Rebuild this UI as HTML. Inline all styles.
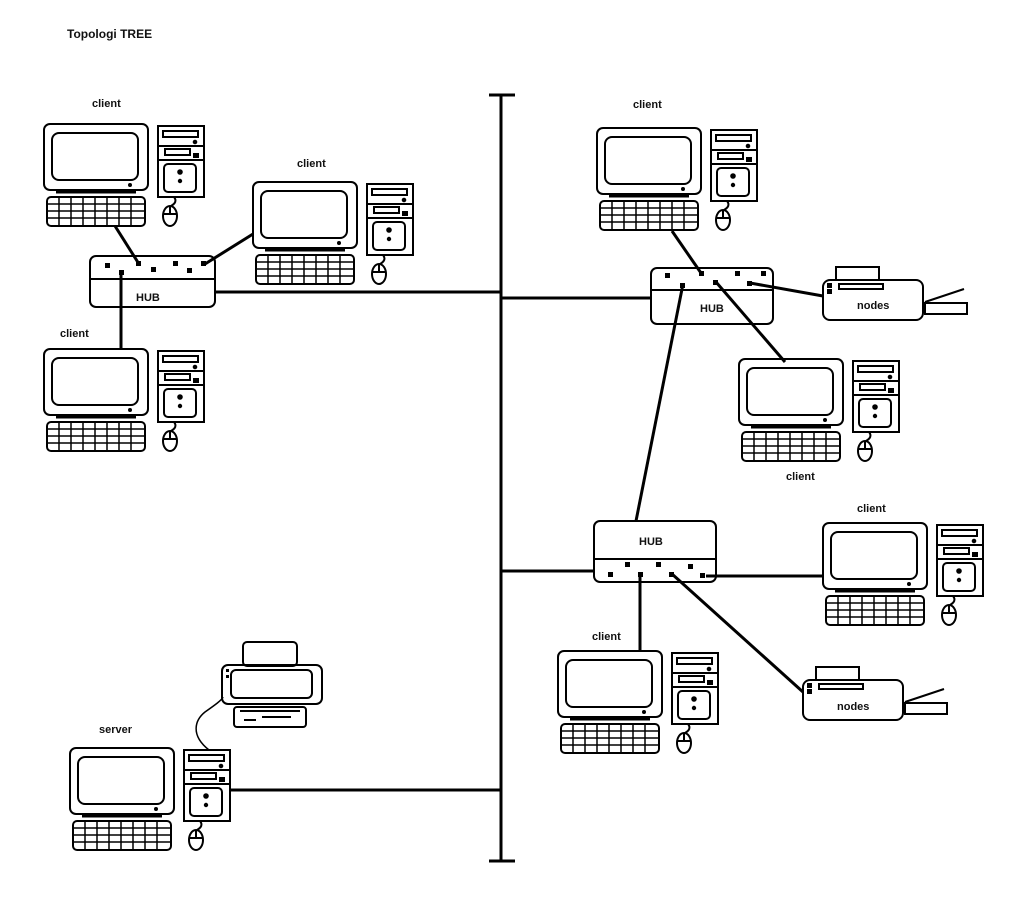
<!DOCTYPE html>
<html><head><meta charset="utf-8"><style>
html,body{margin:0;padding:0;background:#fff;width:1024px;height:903px;overflow:hidden}
svg{display:block}
text{font-family:"Liberation Sans",sans-serif;font-weight:bold;fill:#111}
</style></head><body>
<svg width="1024" height="903" viewBox="0 0 1024 903" xmlns="http://www.w3.org/2000/svg">
<defs>
<g id="pc" fill="none" stroke="#000" stroke-width="2">
  <rect x="0" y="0" width="104" height="66" rx="6"/>
  <rect x="8" y="9" width="86" height="47" rx="7"/>
  <line x1="12" y1="68" x2="92" y2="68" stroke-width="3"/>
  <circle cx="86" cy="61" r="2" fill="#000" stroke="none"/>
  <rect x="3" y="73" width="98" height="29" rx="4"/>
  <path d="M3 80H101M3 87H101M3 94H101M15 73V102M27 73V102M39 73V102M51 73V102M63 73V102M75 73V102M87 73V102" stroke-width="1.5"/>
  <rect x="114" y="2" width="46" height="71"/>
  <rect x="119" y="7" width="35" height="6"/>
  <circle cx="151" cy="18" r="1.3" fill="#000"/>
  <line x1="114" y1="22" x2="160" y2="22"/>
  <rect x="121" y="25" width="25" height="6"/>
  <rect x="150" y="30" width="4" height="3" fill="#000"/>
  <line x1="114" y1="36" x2="160" y2="36"/>
  <rect x="120" y="40" width="32" height="28" rx="4"/>
  <circle cx="136" cy="48" r="1.8" fill="#000"/>
  <circle cx="136" cy="57" r="1.2" fill="#000"/>
  <path d="M130 73 Q134 78 127 82"/>
  <ellipse cx="126" cy="92" rx="7" ry="10"/>
  <line x1="119" y1="90" x2="133" y2="90"/>
  <line x1="126" y1="82" x2="126" y2="90"/>
</g>
<g id="pr" fill="none" stroke="#000" stroke-width="2">
  <rect x="13" y="-13" width="43" height="13"/>
  <rect x="0" y="0" width="100" height="40" rx="7"/>
  <rect x="16" y="4" width="44" height="5"/>
  <rect x="5" y="4" width="3" height="3" fill="#000"/>
  <rect x="5" y="10" width="3" height="3" fill="#000"/>
  <rect x="102" y="23" width="42" height="11"/>
  <line x1="102" y1="22" x2="141" y2="9"/>
</g>
</defs>

<text x="67" y="38" font-size="12">Topologi TREE</text>

<!-- bus -->
<g stroke="#000" stroke-width="3" fill="none">
  <line x1="501" y1="95" x2="501" y2="861"/>
  <line x1="489" y1="95" x2="515" y2="95"/>
  <line x1="489" y1="861" x2="515" y2="861"/>
  <line x1="215" y1="292" x2="501" y2="292"/>
  <line x1="501" y1="298" x2="651" y2="298"/>
  <line x1="501" y1="571" x2="594" y2="571"/>
  <line x1="231" y1="790" x2="501" y2="790"/>
  <!-- hub1 links -->
  <line x1="115" y1="226" x2="139" y2="264"/>
  <line x1="253" y1="234" x2="205" y2="264"/>
  <line x1="121" y1="272" x2="121" y2="349"/>
  <!-- hub2 links -->
  <line x1="672" y1="231" x2="701" y2="273"/>
  <line x1="750" y1="283" x2="823" y2="296"/>
  <line x1="716" y1="282" x2="785" y2="362"/>
  <line x1="683" y1="284" x2="636" y2="521"/>
  <!-- hub3 links -->
  <line x1="706" y1="576" x2="823" y2="576"/>
  <line x1="640" y1="575" x2="640" y2="651"/>
  <line x1="672" y1="574" x2="803" y2="692"/>
</g>
<path d="M209 750 C190 735 195 720 205 712 C215 705 222 700 223 697" fill="none" stroke="#000" stroke-width="1.5"/>

<!-- hubs -->
<g fill="none" stroke="#000" stroke-width="2">
  <rect x="90" y="256" width="125" height="51" rx="6"/>
  <line x1="90" y1="279" x2="215" y2="279"/>
  <rect x="651" y="268" width="122" height="56" rx="6"/>
  <line x1="651" y1="290" x2="773" y2="290"/>
  <rect x="594" y="521" width="122" height="61" rx="6"/>
  <line x1="594" y1="559" x2="716" y2="559"/>
</g>
<g fill="#000">
  <rect x="105" y="263" width="5" height="5"/><rect x="136" y="261" width="5" height="5"/><rect x="151" y="267" width="5" height="5"/><rect x="173" y="261" width="5" height="5"/><rect x="187" y="268" width="5" height="5"/><rect x="201" y="261" width="5" height="5"/><rect x="119" y="270" width="5" height="5"/>
  <rect x="665" y="273" width="5" height="5"/><rect x="699" y="271" width="5" height="5"/><rect x="735" y="271" width="5" height="5"/><rect x="761" y="271" width="5" height="5"/><rect x="680" y="283" width="5" height="5"/><rect x="713" y="280" width="5" height="5"/><rect x="747" y="281" width="5" height="5"/>
  <rect x="608" y="572" width="5" height="5"/><rect x="625" y="562" width="5" height="5"/><rect x="638" y="572" width="5" height="5"/><rect x="656" y="562" width="5" height="5"/><rect x="669" y="572" width="5" height="5"/><rect x="688" y="564" width="5" height="5"/><rect x="700" y="573" width="5" height="5"/>
</g>
<text x="136" y="301" font-size="11" font-weight="normal">HUB</text>
<text x="700" y="312" font-size="11" font-weight="normal">HUB</text>
<text x="639" y="545" font-size="11" font-weight="normal">HUB</text>

<!-- computers -->
<use href="#pc" x="44" y="124"/>
<use href="#pc" x="253" y="182"/>
<use href="#pc" x="44" y="349"/>
<use href="#pc" x="597" y="128"/>
<use href="#pc" x="739" y="359"/>
<use href="#pc" x="823" y="523"/>
<use href="#pc" x="558" y="651"/>
<use href="#pc" x="70" y="748"/>

<text x="92" y="107" font-size="11">client</text>
<text x="297" y="167" font-size="11">client</text>
<text x="60" y="337" font-size="11">client</text>
<text x="633" y="108" font-size="11">client</text>
<text x="786" y="480" font-size="11">client</text>
<text x="857" y="512" font-size="11">client</text>
<text x="592" y="640" font-size="11">client</text>
<text x="99" y="733" font-size="11">server</text>

<!-- printers -->
<use href="#pr" x="823" y="280"/>
<use href="#pr" x="803" y="680"/>
<text x="857" y="309" font-size="11">nodes</text>
<text x="837" y="710" font-size="11">nodes</text>

<g fill="none" stroke="#000" stroke-width="2">
  <rect x="243" y="642" width="54" height="24" rx="4"/>
  <rect x="222" y="665" width="100" height="39" rx="6"/>
  <rect x="231" y="670" width="81" height="28" rx="5"/>
  <rect x="234" y="707" width="72" height="20" rx="3"/>
  <line x1="240" y1="711" x2="300" y2="711"/>
  <line x1="244" y1="720" x2="256" y2="720"/>
  <line x1="262" y1="717" x2="291" y2="717"/>
</g>
<rect x="226" y="669" width="3" height="3" fill="#000"/>
<rect x="226" y="675" width="3" height="3" fill="#000"/>
</svg>
</body></html>
